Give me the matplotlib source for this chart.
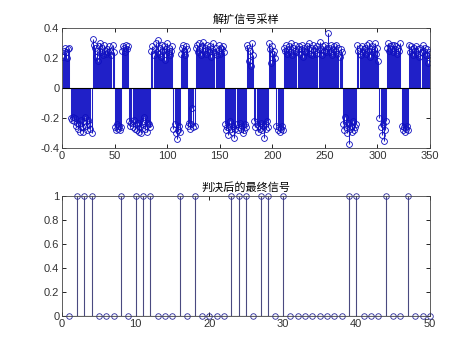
import matplotlib
matplotlib.use("Agg")
import matplotlib.pyplot as plt
import numpy as np

plt.rcParams["font.family"] = ["Liberation Sans", "Noto Sans CJK SC"]
plt.rcParams["font.size"] = 8

# despread samples, one row per bit (7 chips each)
despread = [
    0.21, 0.25, 0.27, 0.24, 0.20, 0.26, 0.27,
    -0.20, -0.21, -0.19, -0.22, -0.20, -0.25, -0.23,
    -0.27, -0.24, -0.29, -0.21, -0.26, -0.29, -0.22,
    -0.19, -0.25, -0.28, -0.21, -0.24, -0.27, -0.30,
    0.33, 0.29, 0.27, 0.21, 0.25, 0.18, 0.28,
    0.30, 0.24, 0.27, 0.22, 0.29, 0.25, 0.23,
    0.26, 0.24, 0.28, 0.25, 0.22, 0.29, 0.24,
    -0.26, -0.28, -0.24, -0.27, -0.25, -0.28, -0.26,
    0.25, 0.28, 0.27, 0.24, 0.29, 0.26, 0.28,
    -0.22, -0.25, -0.23, -0.26, -0.21, -0.27, -0.24,
    -0.28, -0.23, -0.29, -0.26, -0.30, -0.24, -0.22,
    -0.19, -0.27, -0.25, -0.29, -0.23, -0.24, -0.26,
    0.25, 0.28, 0.22, 0.26, 0.30, 0.24, 0.32,
    0.23, 0.27, 0.21, 0.29, 0.25, 0.28, 0.19,
    0.26, 0.30, 0.24, 0.27, 0.22, 0.25, 0.28,
    -0.27, -0.24, -0.30, -0.34, -0.28, -0.25, -0.29,
    0.23, 0.27, 0.29, 0.25, 0.22, 0.28, 0.26,
    -0.25, -0.23, -0.27, -0.24, -0.13, -0.26, -0.25,
    0.27, 0.29, 0.24, 0.30, 0.26, 0.22, 0.28,
    0.31, 0.25, 0.27, 0.23, 0.29, 0.26, 0.24,
    0.28, 0.21, 0.26, 0.30, 0.24, 0.27, 0.22,
    0.25, 0.29, 0.23, 0.27, 0.26, 0.28, 0.24,
    -0.24, -0.28, -0.26, -0.31, -0.25, -0.22, -0.27,
    -0.29, -0.25, -0.33, -0.27, -0.24, -0.28, -0.26,
    -0.23, -0.27, -0.25, -0.30, -0.28, -0.24, -0.26,
    0.29, 0.27, 0.18, 0.25, 0.15, 0.30, 0.22,
    -0.22, -0.26, -0.24, -0.29, -0.25, -0.27, -0.23,
    -0.28, -0.25, -0.33, -0.24, -0.27, -0.22, -0.26,
    0.30, 0.26, 0.17, 0.28, 0.23, 0.25, 0.20,
    -0.25, -0.28, -0.26, -0.29, -0.27, -0.25, -0.28,
    0.27, 0.25, 0.29, 0.23, 0.26, 0.28, 0.24,
    0.30, 0.22, 0.27, 0.25, 0.29, 0.24, 0.26,
    0.28, 0.23, 0.26, 0.29, 0.21, 0.27, 0.25,
    0.24, 0.28, 0.26, 0.30, 0.23, 0.27, 0.22,
    0.29, 0.25, 0.27, 0.23, 0.28, 0.26, 0.31,
    0.26, 0.22, 0.28, 0.25, 0.29, 0.24, 0.27,
    0.37, 0.27, 0.24, 0.29, 0.22, 0.26, 0.28,
    0.25, 0.29, 0.23, 0.27, 0.21, 0.26, 0.24,
    -0.24, -0.28, -0.19, -0.26, -0.30, -0.23, -0.37,
    -0.27, -0.25, -0.29, -0.22, -0.28, -0.26, -0.24,
    0.29, 0.25, 0.27, 0.22, 0.28, 0.24, 0.26,
    0.27, 0.23, 0.29, 0.25, 0.30, 0.21, 0.26,
    0.28, 0.24, 0.26, 0.30, 0.23, 0.27, 0.18,
    -0.20, -0.26, -0.31, -0.24, -0.35, -0.28, -0.22,
    0.27, 0.30, 0.25, 0.28, 0.26, 0.29, 0.24,
    0.29, 0.26, 0.28, 0.23, 0.27, 0.25, 0.30,
    -0.25, -0.28, -0.26, -0.29, -0.27, -0.25, -0.28,
    0.29, 0.24, 0.28, 0.26, 0.22, 0.27, 0.25,
    0.28, 0.23, 0.26, 0.21, 0.27, 0.24, 0.29,
    0.25, 0.27, 0.22, 0.26, 0.17, 0.24, 0.23,
]

decided_bits = [
    0, 1, 1, 1, 0, 0, 0, 1, 0, 1,
    1, 1, 0, 0, 0, 1, 0, 1, 0, 0,
    0, 0, 1, 1, 1, 0, 1, 1, 0, 1,
    0, 0, 0, 0, 0, 0, 0, 0, 1, 1,
    0, 0, 0, 1, 0, 0, 1, 0, 0, 0,
]

top_xticks = [0, 50, 100, 150, 200, 250, 300, 350]
top_yticks = [-0.4, -0.2, 0, 0.2, 0.4]
bot_xticks = [0, 10, 20, 30, 40, 50]
bot_yticks = [0, 0.2, 0.4, 0.6, 0.8, 1]


def style_axes(ax):
    ax.tick_params(direction="in", top=True, right=True, length=3, width=0.6,
                   pad=2, labelcolor="#333333")
    for s in ax.spines.values():
        s.set_linewidth(0.6)
        s.set_color("#444444")


fig = plt.figure(figsize=(4.74, 3.55), dpi=100)
ax1 = fig.add_axes([0.131, 0.583, 0.776, 0.338])
ax2 = fig.add_axes([0.131, 0.110, 0.776, 0.338])

n = np.arange(1, len(despread) + 1)
ml, sl, bl = ax1.stem(n, despread, linefmt="-", markerfmt="o", basefmt="k-")
plt.setp(sl, color="#2020c8", linewidth=0.75)
plt.setp(ml, markerfacecolor="none", markeredgecolor="#1010c0", markersize=4.2, markeredgewidth=0.6)
plt.setp(bl, linewidth=0.8, xdata=[0, 350])
ax1.set_xlim(0, 350)
ax1.set_ylim(-0.4, 0.4)
ax1.set_xticks(top_xticks)
ax1.set_yticks(top_yticks)
ax1.set_yticklabels(["-0.4", "-0.2", "0", "0.2", "0.4"])
ax1.set_title("解扩信号采样", fontsize=8, pad=4)
style_axes(ax1)

k = np.arange(1, len(decided_bits) + 1)
ml2, sl2, bl2 = ax2.stem(k, decided_bits, linefmt="-", markerfmt="o", basefmt="k-")
plt.setp(sl2, color="#4a4a80", linewidth=0.8)
plt.setp(ml2, markerfacecolor="none", markeredgecolor="#2a2a9a", markersize=4, markeredgewidth=0.6)
plt.setp(bl2, linewidth=0.8, xdata=[0, 50])
ml2.set_clip_on(False)
ax2.set_xlim(0, 50)
ax2.set_ylim(0, 1)
ax2.set_xticks(bot_xticks)
ax2.set_yticks(bot_yticks)
ax2.set_yticklabels(["0", "0.2", "0.4", "0.6", "0.8", "1"])
ax2.set_title("判决后的最终信号", fontsize=8, pad=4)
style_axes(ax2)

fig.savefig("out.png", dpi=100)
